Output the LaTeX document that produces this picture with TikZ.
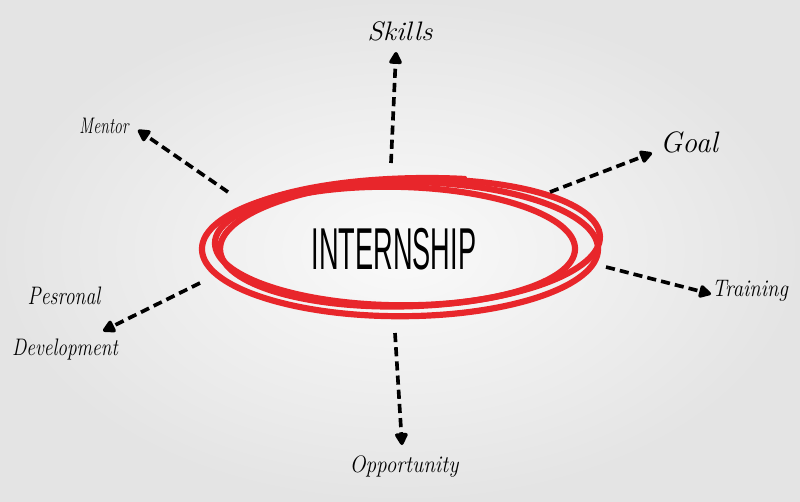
\documentclass[tikz,border=0pt]{standalone}
\usepackage{fontspec}
\setmainfont{Latin Modern Roman}
\newfontfamily\bigfont{Liberation Sans}
\usetikzlibrary{arrows.meta,shapes.geometric}
\definecolor{markred}{HTML}{E8262B}
\tikzset{
  redstroke/.style={draw=markred, line width=4.4pt, line cap=round},
  dasharrow/.style={draw=black, line width=2.6pt, dash pattern=on 6.5pt off 3.6pt,
     -{Triangle[length=10pt,width=10pt,round]}},
  lbl/.style={text=black, inner sep=0pt}
}
\newcommand{\lblfont}[1]{\itshape\fontsize{#1}{#1}\selectfont}
\begin{document}
\begin{tikzpicture}[x=0.025cm,y=-0.025cm]
\useasboundingbox (0,0) rectangle (800,501);
\shade[inner color=gray!4, outer color=gray!21] (0,0) rectangle (800,501);
% red hand-drawn ellipse
\draw[redstroke] (400,249) ellipse [x radius=4.95cm, y radius=1.68cm];
\draw[redstroke, rotate around={-1:(395,246)}] (395,246) ellipse [x radius=4.5cm, y radius=1.48cm];
\draw[redstroke, rotate around={2:(410,243)}] (410,243) ellipse [x radius=4.75cm, y radius=1.58cm];
\draw[redstroke, line width=3pt] (250,205) .. controls (300,182) and (390,174) .. (465,178);
\node[ellipse, minimum width=9.6cm, minimum height=3.3cm] (center) at (400,246) {};
\node[font=\bigfont\fontsize{42}{44}\selectfont, xscale=0.46, inner sep=0pt] (title) at (394,249) {INTERNSHIP};
% labels
\node[lbl, font=\lblfont{19}, xscale=1.07] (skills) at (400,31) {Skills};
\node[lbl, font=\lblfont{16}, xscale=0.7] (mentor) at (104,126) {Mentor};
\node[lbl, font=\lblfont{21}] (goal) at (689,142) {Goal};
\node[lbl, font=\lblfont{17}, xscale=0.87] (training) at (750,291) {Training};
\node[lbl, font=\lblfont{17}, xscale=0.89] (opp) at (404,467) {Opportunity};
\node[lbl, font=\lblfont{18}, xscale=0.78] (pers) at (64,296) {Pesronal};
\node[lbl, font=\lblfont{17}, xscale=0.81] (dev) at (65,350) {Development};
% arrow endpoints
\coordinate (s0) at (391,163); \coordinate (s1) at (396,52);
\coordinate (m0) at (228,192); \coordinate (m1) at (138,130);
\coordinate (g0) at (550,192); \coordinate (g1) at (652,153);
\coordinate (t0) at (606,267); \coordinate (t1) at (711,294);
\coordinate (o0) at (395,333); \coordinate (o1) at (402,445);
\coordinate (p0) at (200,283); \coordinate (p1) at (103,331);
\draw[dasharrow] (s0) -- (s1);
\draw[dasharrow] (m0) -- (m1);
\draw[dasharrow] (g0) -- (g1);
\draw[dasharrow] (t0) -- (t1);
\draw[dasharrow] (o0) -- (o1);
\draw[dasharrow] (p0) -- (p1);
\end{tikzpicture}
\end{document}
